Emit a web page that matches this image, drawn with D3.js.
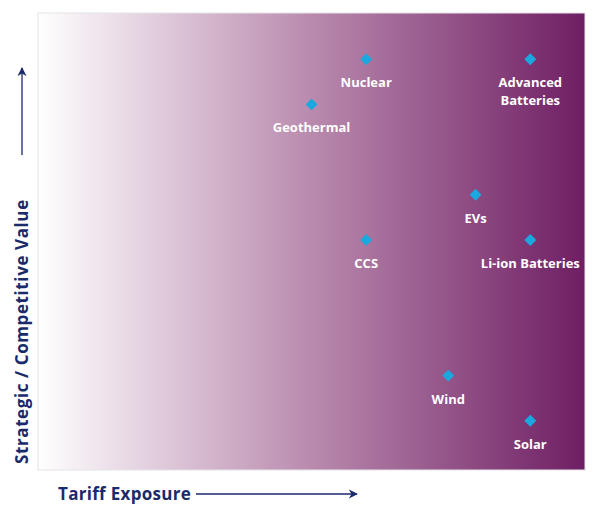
<!DOCTYPE html>
<html><head><meta charset="utf-8">
<script src="https://cdn.jsdelivr.net/npm/d3@7"></script>
<style>body{margin:0;background:#fff;font-family:"Open Sans",sans-serif}</style>
</head><body>
<svg id="chart" width="600" height="513"></svg>
<script>
// technologies and their positions (0-10 scale)
var names = ["Nuclear", "Advanced Batteries", "Geothermal", "EVs", "CCS", "Li-ion Batteries", "Wind", "Solar"];
var tariff = [6, 9, 5, 8, 6, 9, 7.5, 9];
var value = [9, 9, 8, 6, 5, 5, 2, 1];

var svg = d3.select("#chart");
var navy = "#1b2a6b";
var pLeft = 38, pRight = 585, pTop = 13, pBottom = 470;

var x = d3.scaleLinear().domain([0, 10]).range([pLeft, pRight]);
var y = d3.scaleLinear().domain([0, 10]).range([466, 14]);

var defs = svg.append("defs");
var grad = defs.append("linearGradient").attr("id", "bg");
grad.append("stop").attr("offset", "0%").attr("stop-color", "#ffffff");
grad.append("stop").attr("offset", "50%").attr("stop-color", "#b98aae");
grad.append("stop").attr("offset", "100%").attr("stop-color", "#6e1e63");

svg.append("rect").attr("x", pLeft).attr("y", pTop)
	.attr("width", pRight - pLeft).attr("height", pBottom - pTop)
	.attr("fill", "url(#bg)").attr("stroke", "#e4e4e8");

var pts = svg.selectAll("g.pt").data(names).enter().append("g")
	.attr("transform", function (d, i) { return "translate(" + x(tariff[i]) + "," + y(value[i]) + ")"; });

pts.append("path").attr("d", d3.symbol().type(d3.symbolDiamond2).size(90))
	.attr("fill", "#1ba8df");

pts.append("text").attr("text-anchor", "middle").attr("fill", "#fff")
	.attr("font-size", 13).attr("font-weight", "bold")
	.each(function (d) {
		var words = d == "Advanced Batteries" ? ["Advanced", "Batteries"] : [d];
		var t = d3.select(this);
		words.forEach(function (w, j) {
			t.append("tspan").attr("x", 0).attr("y", 28 + j * 18).text(w);
		});
	});

// axis titles with arrows
var mk = defs.append("marker").attr("id", "arr")
	.attr("viewBox", "0 0 10 10").attr("refX", 9).attr("refY", 5)
	.attr("markerWidth", 7).attr("markerHeight", 7).attr("orient", "auto");
mk.append("path").attr("d", "M0,0L10,5L0,10L3,5Z").attr("fill", navy);

svg.append("text").attr("x", 58).attr("y", 500).attr("fill", navy)
	.attr("font-size", 17).attr("font-weight", "bold").attr("letter-spacing", 0.3).text("Tariff Exposure");
svg.append("line").attr("x1", 196).attr("x2", 357).attr("y1", 494).attr("y2", 494)
	.attr("stroke", navy).attr("stroke-width", 1.3).attr("marker-end", "url(#arr)");

svg.append("text").attr("transform", "translate(28,464) rotate(-90)").attr("fill", navy)
	.attr("font-size", 17).attr("font-weight", "bold").attr("letter-spacing", 0.6).text("Strategic / Competitive Value");
svg.append("line").attr("x1", 22).attr("x2", 22).attr("y1", 155).attr("y2", 68)
	.attr("stroke", navy).attr("stroke-width", 1.3).attr("marker-end", "url(#arr)");
</script>
</body></html>
